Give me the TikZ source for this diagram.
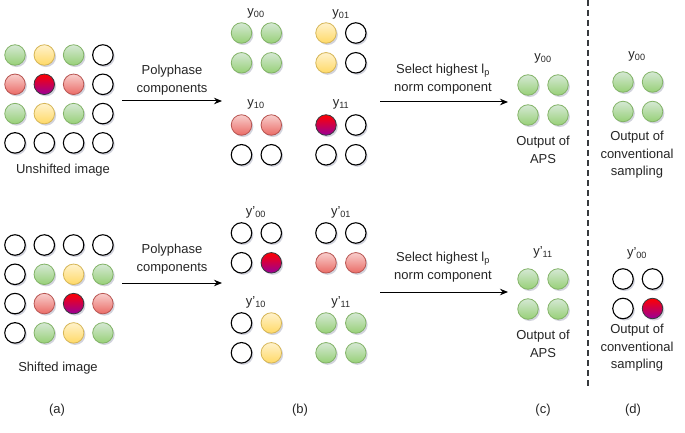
\documentclass[tikz,border=0pt]{standalone}
\usepackage{fontspec}
\setmainfont{Liberation Sans}
\usetikzlibrary{arrows.meta,shadows}
\definecolor{greenb}{HTML}{82B366}
\definecolor{greent}{HTML}{D5E8D4}
\definecolor{greenbt}{HTML}{97D077}
\definecolor{yelb}{HTML}{D6B656}
\definecolor{yelt}{HTML}{FFF2CC}
\definecolor{yelbt}{HTML}{FFD966}
\definecolor{redb}{HTML}{B85450}
\definecolor{redt}{HTML}{F8CECC}
\definecolor{redbt}{HTML}{EA6B66}
\definecolor{darkb}{HTML}{36393D}
\definecolor{darkt}{HTML}{FF0000}
\definecolor{darkbt}{HTML}{990099}
\definecolor{shadc}{HTML}{6A6F8F}
\definecolor{txt}{HTML}{262626}
\tikzset{
  dotbase/.style={circle, minimum size=20.5pt, inner sep=0pt, line width=0.8pt,
    drop shadow={shadow xshift=1.6pt, shadow yshift=-1.8pt, fill=shadc, opacity=0.3}},
  cg/.style={dotbase, draw=greenb, top color=greent, bottom color=greenbt},
  cy/.style={dotbase, draw=yelb, top color=yelt, bottom color=yelbt},
  cr/.style={dotbase, draw=redb, top color=redt, bottom color=redbt},
  cd/.style={dotbase, draw=darkb, top color=darkt, bottom color=darkbt},
  cw/.style={dotbase, draw=black, fill=white, line width=1.1pt},
  lab/.style={font=\fontsize{13}{17.5}\selectfont, text=txt, align=center, inner sep=0pt},
  arr/.style={line width=1pt, -{Stealth[length=8pt,width=6.5pt]}},
}
\newcommand{\mygrid}[5]{% name, x0, y0, dx/dy, rows
  \foreach \row [count=\j] in {#5} {
    \foreach \c [count=\i] in \row {
      \node[c\c] (#1\j\i) at ({#2+#4*(\i-1)}, {#3+#4*(\j-1)}) {};
    }
  }
}
\begin{document}
\begin{tikzpicture}[x=1pt,y=-1pt]
\fill[white] (0,0) rectangle (685,433);
\useasboundingbox (0,0) rectangle (685,433);

% (a) images
\mygrid{u}{15}{55}{29.3}{{g,y,g,w},{r,d,r,w},{g,y,g,w},{w,w,w,w}}
\node[lab] (ulab) at (63,170) {Unshifted image};
\mygrid{s}{15}{245}{29.3}{{w,w,w,w},{w,g,y,g},{w,r,d,r},{w,g,y,g}}
\node[lab] (slab) at (58,368) {Shifted image};

% polyphase arrows
\coordinate (pa1) at (122,101);
\coordinate (pa2) at (222,101);
\draw[arr] (pa1) -- (pa2);
\node[lab] (ptop) at (172,80) {Polyphase\\components};
\coordinate (pb1) at (122,283);
\coordinate (pb2) at (222,283);
\draw[arr] (pb1) -- (pb2);
\node[lab] (pbot) at (172,259) {Polyphase\\components};

% (b) components top
\mygrid{a}{241.5}{33}{29.8}{{g,g},{g,g}}
\mygrid{b}{326}{33}{29.8}{{y,w},{y,w}}
\mygrid{c}{241.5}{125}{29.8}{{r,r},{w,w}}
\mygrid{d}{326}{125}{29.8}{{d,w},{w,w}}
\node[lab] (la) at (256,13) {y\textsubscript{00}};
\node[lab] (lb) at (341,14) {y\textsubscript{01}};
\node[lab] (lc) at (256,104) {y\textsubscript{10}};
\node[lab] (ld) at (341,104) {y\textsubscript{11}};
% (b) components bottom
\mygrid{e}{241.5}{233}{29.8}{{w,w},{w,d}}
\mygrid{f}{326}{233}{29.8}{{w,w},{r,r}}
\mygrid{h}{241.5}{323}{29.8}{{w,y},{w,y}}
\mygrid{k}{326}{323}{29.8}{{g,g},{g,g}}
\node[lab] (le) at (256,212) {y'\textsubscript{00}};
\node[lab] (lf) at (341,212) {y'\textsubscript{01}};
\node[lab] (lh) at (256,302) {y'\textsubscript{10}};
\node[lab] (lk) at (341,302) {y'\textsubscript{11}};

% select arrows
\coordinate (sa1) at (380,102);
\coordinate (sa2) at (508,102);
\draw[arr] (sa1) -- (sa2);
\node[lab] (stop) at (443,79) {Select highest l\textsubscript{p}\\norm component};
\coordinate (sb1) at (380,292);
\coordinate (sb2) at (508,292);
\draw[arr] (sb1) -- (sb2);
\node[lab] (sbot) at (443,267) {Select highest l\textsubscript{p}\\norm component};

% (c) APS outputs
\mygrid{m}{528}{85}{30}{{g,g},{g,g}}
\node[lab] (lm) at (543,58) {y\textsubscript{00}};
\node[lab] (om) at (543,150) {Output of\\APS};
\mygrid{n}{528}{279}{30}{{g,g},{g,g}}
\node[lab] (ln) at (543,252) {y'\textsubscript{11}};
\node[lab] (on) at (543,344) {Output of\\APS};

% dashed separator
\coordinate (dl1) at (588,0);
\coordinate (dl2) at (588,386);
\draw[line width=1.6pt, draw=darkb, dash pattern=on 6pt off 4pt] (dl1) -- (dl2);

% (d) conventional outputs
\mygrid{p}{623}{82}{29.5}{{g,g},{g,g}}
\node[lab] (lp) at (637,56) {y\textsubscript{00}};
\node[lab] (op) at (637,155) {Output of\\conventional\\sampling};
\mygrid{q}{623}{279}{29.5}{{w,w},{w,d}}
\node[lab] (lq) at (637,253) {y'\textsubscript{00}};
\node[lab] (oq) at (637,348) {Output of\\conventional\\sampling};

% panel labels
\node[lab] (pa) at (57,410) {(a)};
\node[lab] (pb) at (300,410) {(b)};
\node[lab] (pc) at (543,410) {(c)};
\node[lab] (pd) at (633,410) {(d)};
\end{tikzpicture}
\end{document}
